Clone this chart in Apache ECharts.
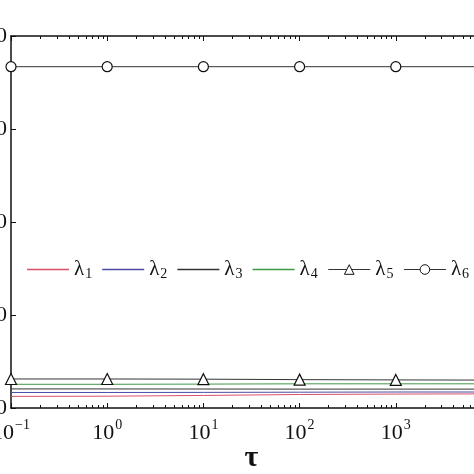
<!DOCTYPE html>
<html>
<head>
<meta charset="utf-8">
<script src="https://cdn.jsdelivr.net/npm/echarts@6/dist/echarts.min.js"></script>
<style>
  html, body { margin: 0; padding: 0; background: #fff; }
  #chart { width: 474px; height: 474px; }
</style>
</head>
<body>
<div id="chart"></div>
<script>
// tau values (log axis) and eigenvalues
var tau = [0.1, 1, 10, 100, 1000, 10000]
var lambda1 = [1.25, 1.27, 1.35, 1.45, 1.50, 1.52]
var lambda2 = [1.67, 1.67, 1.68, 1.70, 1.72, 1.72]
var lambda3 = [2.05, 2.05, 2.04, 2.03, 2.03, 2.03]
var lambda4 = [2.55, 2.55, 2.57, 2.60, 2.60, 2.60]
var lambda5 = [3.12, 3.12, 3.10, 3.05, 3.02, 3.00]
var lambda6 = [36.7, 36.7, 36.7, 36.7, 36.7, 36.7]
var names = ['λ1', 'λ2', 'λ3', 'λ4', 'λ5', 'λ6']
var colors = ['#d9506a', '#4b4ba6', '#333333', '#3f9a48', '#333333', '#333333']

var font = 'Liberation Serif'
var chart = echarts.init(document.getElementById('chart'))

function pairs(ys) {
  return tau.map(function (t, i) { return [t, ys[i]] })
}

function logLabel(v) {
  var e = Math.round(Math.log(v) / Math.LN10)
  return '{b|10}{s|' + (e < 0 ? '\u2212' + (-e) : e) + '}'
}

var tickLabelRich = {
  b: { fontFamily: font, fontSize: 22, color: '#111', verticalAlign: 'bottom' },
  s: { fontFamily: font, fontSize: 14, color: '#111', verticalAlign: 'top', padding: [0, 0, 12, 1] }
}

var axisCommon = {
  axisLine: { show: true, onZero: false, lineStyle: { color: '#111', width: 1.5 } },
  axisTick: { show: true, inside: true, length: 5, lineStyle: { color: '#111' } },
  minorTick: { show: true, splitNumber: 9, length: 3, lineStyle: { color: '#111' } },
  splitLine: { show: false },
  minorSplitLine: { show: false }
}

var data = [lambda1, lambda2, lambda3, lambda4, lambda5, lambda6]
var symbols = ['none', 'none', 'none', 'none', 'triangle', 'circle']
var lineIcon = 'path://M0,0 L42,0 L42,1.4 L0,1.4 Z'

var series = data.map(function (ys, i) {
  return {
    name: names[i],
    type: 'line',
    data: pairs(ys),
    symbol: symbols[i],
    symbolSize: i === 4 ? 11 : 10,
    showSymbol: symbols[i] !== 'none',
    color: colors[i],
    lineStyle: { color: colors[i], width: 1 },
    itemStyle: { color: '#fff', borderColor: '#111', borderWidth: 1.2 },
    animation: false
  }
})

var legendData = names.map(function (n, i) {
  return symbols[i] === 'none'
    ? { name: n, icon: lineIcon, itemStyle: { color: colors[i], borderColor: colors[i], borderWidth: 0 } }
    : { name: n, lineStyle: { width: 1, color: colors[i] }, itemStyle: { borderWidth: 1 } }
})

var option = {
  backgroundColor: '#fff',
  animation: false,
  grid: { left: 11, right: -18, top: 36, bottom: 66, outerBoundsMode: 'none', containLabel: false },
  legend: {
    data: legendData,
    top: 259,
    left: 27,
    padding: 0,
    width: 700,
    itemWidth: 42,
    itemHeight: 12,
    itemGap: 10,
    textStyle: {
      fontFamily: font,
      fontSize: 20,
      color: '#111',
      rich: {
        l: { fontFamily: font, fontSize: 21, color: '#111' },
        n: { fontFamily: font, fontSize: 14, color: '#111', verticalAlign: 'bottom', padding: [10, 0, 0, 1] }
      }
    },
    formatter: function (name) {
      return '{l|λ}{n|' + name.slice(1) + '}'
    }
  },
  xAxis: [
    Object.assign({
      type: 'log',
      logBase: 10,
      min: 0.1,
      max: 10000,
      position: 'bottom',
      name: 'τ',
      nameLocation: 'middle',
      nameGap: 35,
      nameMoveOverlap: false,
      nameTextStyle: { fontFamily: font, fontSize: 30, fontWeight: 'bold', color: '#111' },
      axisLabel: { margin: 10, formatter: logLabel, rich: tickLabelRich }
    }, axisCommon),
    Object.assign({
      type: 'log',
      logBase: 10,
      min: 0.1,
      max: 10000,
      position: 'top',
      axisLabel: { show: false }
    }, axisCommon)
  ],
  yAxis: {
    type: 'value',
    min: 0,
    max: 40,
    interval: 10,
    axisLine: { show: true, lineStyle: { color: '#111', width: 1.5 } },
    axisTick: { show: true, inside: true, length: 5, lineStyle: { color: '#111' } },
    splitLine: { show: false },
    axisLabel: { margin: 4, fontFamily: font, fontSize: 22, color: '#111' }
  },
  series: series
}

chart.setOption(option)
</script>
</body>
</html>
